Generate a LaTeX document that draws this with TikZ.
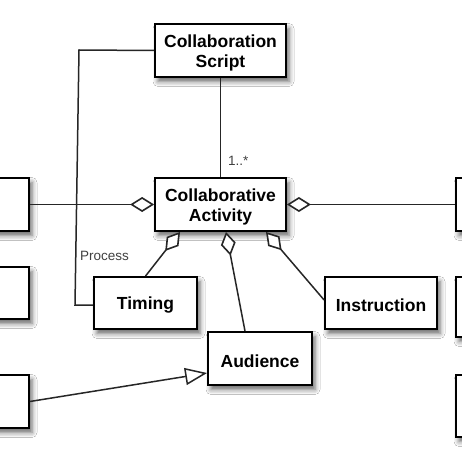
\documentclass[tikz,border=0pt]{standalone}
\usepackage{fontspec}
\setmainfont{Liberation Sans}
\usetikzlibrary{arrows.meta,shadows.blur,calc}
\begin{document}
\begin{tikzpicture}[x=1pt,y=-1pt,
  box/.style={draw=black,line width=1.8pt,fill=white,rectangle,inner sep=0pt,
    blur shadow={shadow xshift=3pt,shadow yshift=-4.5pt,shadow blur radius=5pt,shadow opacity=60}},
  boxlabel/.style={align=center,inner sep=0pt,yshift=-2.5pt,
    font=\bfseries\fontsize{17.5}{20.5}\selectfont},
  conn/.style={line width=1.5pt,draw=black!85},
  thin/.style={line width=0.9pt,draw=black!85},
  dia/.style={-{Diamond[open,fill=white,length=24pt,width=15pt,line width=1.6pt]}},
  revdia/.style={{Diamond[open,fill=white,length=24pt,width=15pt,line width=1.6pt]}-},
  tri/.style={-{Triangle[open,fill=white,length=22pt,width=17pt,line width=1.5pt]}},
  lbl/.style={font=\fontsize{13.5}{15}\selectfont,text=black!75,inner sep=0pt}]
\useasboundingbox (0,0) rectangle (462,462);
\clip (0,0) rectangle (462,462);
\fill[white] (0,0) rectangle (462,462);
% boxes
\node[box,minimum width=131pt,minimum height=53pt,label={[boxlabel]center:{Collaboration\\Script}}] (script) at (220.5,50.5) {};
\node[box,minimum width=131pt,minimum height=53pt,label={[boxlabel]center:{Collaborative\\Activity}}] (activity) at (220.5,204.5) {};
\node[box,minimum width=103pt,minimum height=52pt,label={[boxlabel]center:Timing}] (timing) at (145.5,303) {};
\node[box,minimum width=112pt,minimum height=52pt,label={[boxlabel]center:Instruction}] (instruction) at (381,303) {};
\node[box,minimum width=104pt,minimum height=53pt,label={[boxlabel]center:Audience}] (audience) at (260,358.5) {};
\node[box,minimum width=49pt,minimum height=53pt] (l1) at (4.5,204.5) {};
\node[box,minimum width=49pt,minimum height=52pt] (l2) at (4.5,293) {};
\node[box,minimum width=49pt,minimum height=53pt] (l3) at (4.5,401.5) {};
\node[box,minimum width=44pt,minimum height=53pt] (r1) at (478,204.5) {};
\node[box,minimum width=44pt,minimum height=60pt] (r2) at (478,307) {};
\node[box,minimum width=44pt,minimum height=62pt] (r3) at (478,406) {};
% coordinates
\coordinate (p1) at (79,50);
\coordinate (p2) at (75,305);
\coordinate (tend) at (180,232);
\coordinate (aend) at (226,232);
\coordinate (iend) at (266,232);
\coordinate (astart) at ($(audience.north)+(-15,0)$);
\coordinate (istart) at ($(instruction.west)+(0,-3)$);
\coordinate (aud) at ($(audience.west)+(0,14.5)$);
% connectors
\draw[conn] (script.west) -- (p1) -- (p2) -- (p2 -| timing.west);
\draw[thin] (script.south) -- (activity.north);
\draw[conn,dia] (l1.east) -- (activity.west);
\draw[conn,revdia] (activity.east) -- (r1.west);
\draw[conn,dia] (timing.north) -- (tend);
\draw[conn,dia] (astart) -- (aend);
\draw[conn,dia] (istart) -- (iend);
\draw[conn,tri] (l3.east) -- (aud);
% labels
\node[lbl,anchor=west] (process) at (80,256) {Process};
\node[lbl,anchor=west] (mult) at (228,161) {1..*};
\end{tikzpicture}
\end{document}
